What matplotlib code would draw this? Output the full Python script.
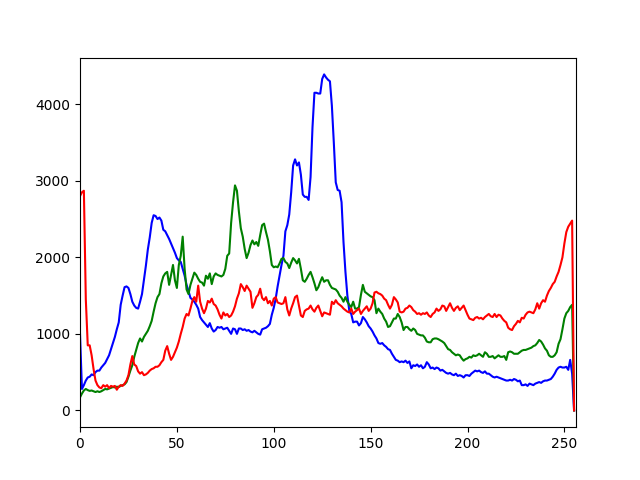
import matplotlib
matplotlib.use("Agg")
import matplotlib.pyplot as plt
import numpy as np

bins = np.arange(256)

blue = [1000, 280, 330, 390, 430, 440, 470, 460, 500, 520,
        520, 560, 590, 620, 670, 720, 800, 880, 960, 1060,
        1150, 1380, 1500, 1610, 1620, 1600, 1520, 1420, 1370, 1340,
        1330, 1420, 1520, 1700, 1890, 2100, 2260, 2450, 2550, 2540,
        2500, 2520, 2480, 2360, 2340, 2290, 2240, 2180, 2120, 2060,
        1990, 1960, 1940, 1850, 1760, 1640, 1560, 1470, 1450, 1420,
        1380, 1330, 1220, 1180, 1150, 1120, 1090, 1140, 1070, 1030,
        1050, 1090, 1080, 1090, 1060, 1070, 1080, 1040, 1000, 1070,
        1060, 1000, 1070, 1070, 1050, 1060, 1040, 1050, 1030, 1020,
        1040, 1020, 1000, 990, 1060, 1070, 1080, 1100, 1130, 1250,
        1340, 1460, 1620, 1760, 1900, 2020, 2340, 2420, 2560, 2850,
        3200, 3280, 3200, 3240, 3080, 2820, 2790, 2790, 2750, 3050,
        3700, 4150, 4150, 4140, 4140, 4330, 4390, 4350, 4320, 4300,
        3980, 3500, 2980, 2880, 2870, 2720, 2200, 1810, 1500, 1300,
        1260, 1150, 1160, 1160, 1110, 1140, 1220, 1190, 1150, 1100,
        1070, 1030, 980, 940, 880, 870, 880, 850, 830, 800,
        790, 740, 700, 660, 650, 630, 640, 630, 650, 620,
        640, 550, 590, 580, 600, 570, 590, 550, 570, 630,
        600, 550, 560, 540, 560, 550, 520, 530, 510, 490,
        480, 490, 470, 460, 480, 450, 460, 450, 430, 460,
        460, 450, 480, 500, 520, 510, 520, 500, 490, 510,
        480, 480, 460, 440, 430, 440, 430, 420, 410, 400,
        390, 390, 400, 390, 410, 400, 380, 390, 330, 330,
        340, 320, 350, 340, 330, 350, 360, 370, 360, 380,
        390, 390, 400, 410, 440, 480, 530, 560, 570, 560,
        560, 570, 530, 660, 480, 0]

green = [170, 220, 260, 280, 265, 255, 260, 250, 240, 250,
         240, 250, 265, 280, 275, 285, 295, 305, 300, 310,
         305, 320, 330, 340, 370, 440, 520, 590, 700, 790,
         880, 940, 900, 960, 1000, 1040, 1100, 1170, 1290, 1400,
         1480, 1520, 1660, 1750, 1790, 1810, 1640, 1770, 1900, 1700,
         1600, 1900, 2020, 2270, 1850, 1580, 1520, 1640, 1720, 1800,
         1770, 1720, 1680, 1670, 1630, 1760, 1720, 1790, 1650, 1750,
         1790, 1770, 1760, 1750, 1770, 1850, 2020, 2050, 2450, 2720,
         2940, 2870, 2600, 2380, 2270, 2110, 1990, 2060, 2160, 2220,
         2170, 2200, 2150, 2290, 2420, 2440, 2330, 2230, 2080, 1900,
         1870, 1880, 1870, 1920, 1980, 1990, 1940, 1920, 1860, 1930,
         1990, 1960, 1920, 1980, 1850, 1700, 1680, 1720, 1770, 1810,
         1740, 1660, 1570, 1610, 1680, 1740, 1680, 1700, 1700, 1640,
         1600, 1590, 1580, 1550, 1500, 1470, 1420, 1480, 1420, 1380,
         1350, 1420, 1330, 1330, 1350, 1510, 1640, 1550, 1530, 1510,
         1490, 1480, 1440, 1270, 1330, 1290, 1260, 1200, 1160, 1090,
         1100, 1150, 1200, 1200, 1260, 1220, 1150, 1050, 1090, 1090,
         1060, 1040, 1070, 1050, 1000, 990, 980, 980, 950, 900,
         890, 890, 930, 940, 940, 930, 915, 900, 880, 840,
         800, 790, 760, 740, 720, 730, 720, 680, 650, 670,
         680, 700, 690, 720, 710, 720, 740, 720, 700, 760,
         740, 700, 700, 710, 680, 700, 720, 700, 700, 710,
         660, 760, 770, 760, 740, 740, 740, 760, 780, 790,
         790, 800, 810, 820, 840, 850, 880, 920, 900, 860,
         810, 780, 720, 700, 700, 720, 760, 870, 930, 1060,
         1200, 1270, 1300, 1350, 1380, 0]

red = [2800, 2850, 2870, 1450, 850, 850, 720, 540, 390, 330,
       300, 290, 330, 310, 330, 290, 320, 310, 320, 270,
       310, 330, 320, 350, 390, 460, 600, 710, 600, 580,
       510, 480, 500, 460, 470, 490, 520, 540, 550, 570,
       570, 590, 630, 660, 780, 840, 740, 660, 700, 760,
       820, 900, 1000, 1090, 1200, 1260, 1240, 1330, 1430, 1480,
       1420, 1630, 1420, 1330, 1270, 1330, 1430, 1410, 1460, 1390,
       1370, 1320, 1250, 1200, 1280, 1240, 1260, 1220, 1240, 1290,
       1360, 1460, 1530, 1650, 1610, 1560, 1630, 1590, 1550, 1340,
       1400, 1480, 1510, 1590, 1470, 1440, 1480, 1400, 1430, 1370,
       1460, 1480, 1410, 1400, 1390, 1400, 1480, 1320, 1240, 1330,
       1400, 1480, 1500, 1370, 1240, 1220, 1300, 1320, 1330, 1370,
       1320, 1290, 1340, 1370, 1300, 1230, 1280, 1270, 1260, 1250,
       1420, 1390, 1440, 1400, 1380, 1360, 1330, 1310, 1290, 1280,
       1330, 1260, 1290, 1310, 1330, 1260, 1300, 1330, 1360, 1300,
       1330, 1400, 1540, 1550, 1530, 1520, 1500, 1460, 1440, 1380,
       1330, 1380, 1480, 1450, 1410, 1290, 1280, 1290, 1330, 1340,
       1370, 1350, 1310, 1290, 1260, 1270, 1250, 1270, 1260, 1280,
       1240, 1220, 1260, 1280, 1330, 1300, 1320, 1370, 1360, 1300,
       1350, 1400, 1340, 1300, 1340, 1360, 1310, 1340, 1370, 1310,
       1250, 1200, 1190, 1180, 1210, 1220, 1200, 1210, 1190, 1220,
       1240, 1260, 1230, 1220, 1260, 1220, 1250, 1240, 1200, 1170,
       1150, 1080, 1060, 1050, 1100, 1130, 1170, 1150, 1210, 1200,
       1250, 1280, 1290, 1280, 1270, 1320, 1400, 1330, 1400, 1440,
       1420, 1500, 1560, 1600, 1650, 1680, 1750, 1810, 1900, 2000,
       2180, 2330, 2400, 2440, 2480, 0]

fig, ax = plt.subplots(figsize=(6.4, 4.8), dpi=100)
for series, col in ((blue, 'b'), (green, 'g'), (red, 'r')):
    ax.plot(bins, series, color=col)
ax.set_xlim([0, 256])
fig.savefig("out.png")
